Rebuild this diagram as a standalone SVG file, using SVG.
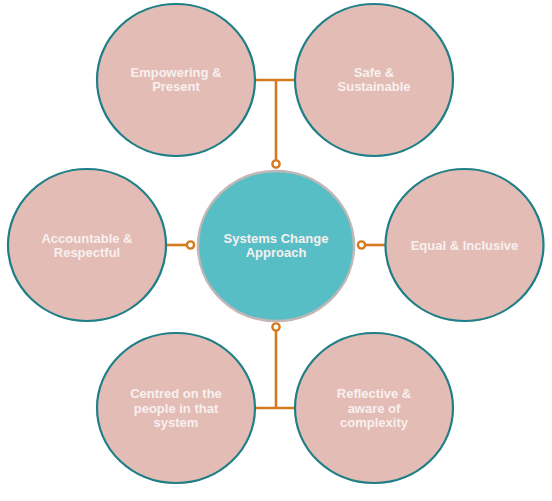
<svg xmlns="http://www.w3.org/2000/svg" width="552" height="501" viewBox="0 0 552 501">
<style>
.node{fill:#e3bcb6;stroke:#1f7f87;stroke-width:2.2}
.hub{fill:#57bec6;stroke:#c2b7b5;stroke-width:2.5}
.lbl{font-family:"Liberation Sans",Arial,sans-serif;font-weight:bold;font-size:13px;fill:#f8f0ee;text-anchor:middle}
.con{stroke:#d57a1f;stroke-width:2.6;fill:none}
.dot{stroke:#d57a1f;stroke-width:2.4;fill:#ffffff}
</style>
<rect width="552" height="501" fill="#ffffff"/>
<g id="connectors">
<path class="con" d="M255 80 H294 M276 80 V160"/>
<path class="con" d="M255 408 H294 M276 408 V331"/>
<path class="con" d="M166 245 H187"/>
<path class="con" d="M365 245 H386"/>
<circle class="dot" cx="276" cy="164" r="3.6"/>
<circle class="dot" cx="276" cy="327" r="3.6"/>
<circle class="dot" cx="190.5" cy="245" r="3.6"/>
<circle class="dot" cx="361.5" cy="245" r="3.6"/>
</g>
<g id="empowering">
<ellipse class="node" cx="176" cy="80" rx="79" ry="76"/>
<text class="lbl" x="176" y="77">Empowering &amp;</text>
<text class="lbl" x="176" y="91">Present</text>
</g>
<g id="safe">
<ellipse class="node" cx="374" cy="80" rx="79" ry="76"/>
<text class="lbl" x="374" y="77">Safe &amp;</text>
<text class="lbl" x="374" y="91">Sustainable</text>
</g>
<g id="accountable">
<ellipse class="node" cx="87" cy="245" rx="79" ry="76"/>
<text class="lbl" x="87" y="242.5">Accountable &amp;</text>
<text class="lbl" x="87" y="256.5">Respectful</text>
</g>
<g id="hub">
<ellipse class="hub" cx="276" cy="246" rx="78" ry="75"/>
<text class="lbl" x="276" y="243">Systems Change</text>
<text class="lbl" x="276" y="257">Approach</text>
</g>
<g id="equal">
<ellipse class="node" cx="464.5" cy="245" rx="79" ry="76"/>
<text class="lbl" x="464.5" y="249.5">Equal &amp; Inclusive</text>
</g>
<g id="centred">
<ellipse class="node" cx="176" cy="408" rx="79" ry="75"/>
<text class="lbl" x="176" y="397.5">Centred on the</text>
<text class="lbl" x="176" y="412.5">people in that</text>
<text class="lbl" x="176" y="427">system</text>
</g>
<g id="reflective">
<ellipse class="node" cx="374" cy="408" rx="79" ry="75"/>
<text class="lbl" x="374" y="397.5">Reflective &amp;</text>
<text class="lbl" x="374" y="412.5">aware of</text>
<text class="lbl" x="374" y="427">complexity</text>
</g>
</svg>
